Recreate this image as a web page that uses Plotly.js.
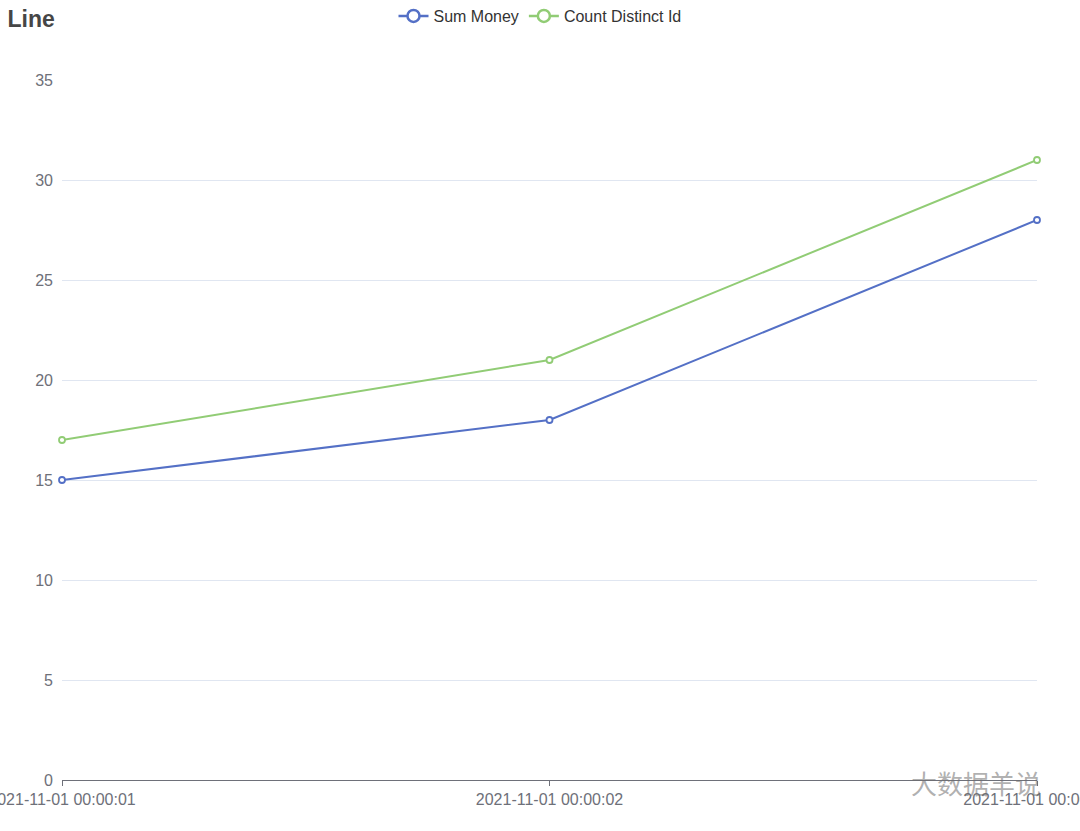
<!DOCTYPE html>
<html>
<head>
<meta charset="utf-8">
<script src="https://cdn.plot.ly/plotly-3.0.1.min.js"></script>
<style>html,body{margin:0;padding:0;background:#fff;}#chart{width:1080px;height:831px;}</style>
</head>
<body>
<div id="chart"></div>
<script>
const categories = ["2021-11-01 00:00:01", "2021-11-01 00:00:02", "2021-11-01 00:00:03"];
const sumMoney = [15, 18, 28];
const countDistinctId = [17, 21, 31];
const yTicks = [0, 5, 10, 15, 20, 25, 30, 35];
const seriesNames = ["Sum Money", "Count Distinct Id"];
const seriesColors = ["#5470C6", "#91CC75"];

const fontFam = '"Helvetica Neue", "Liberation Sans", Arial, sans-serif';
function series(name, vals, color) {
  return {
    type: 'scatter', mode: 'lines+markers', name: name,
    x: categories, y: vals, showlegend: false,
    line: {color: color, width: 2},
    marker: {symbol: 'circle', size: 6, color: '#ffffff', line: {color: color, width: 1.8}},
    cliponaxis: false
  };
}
function legendEntry(name, color) {
  return {
    type: 'scatter', mode: 'lines+markers', name: name,
    x: [null], y: [null], showlegend: true,
    line: {color: color, width: 2.5},
    marker: {symbol: 'circle', size: 12, color: '#ffffff', line: {color: color, width: 2.5}}
  };
}
const data = [
  series(seriesNames[0], sumMoney, seriesColors[0]),
  series(seriesNames[1], countDistinctId, seriesColors[1]),
  legendEntry(seriesNames[0], seriesColors[0]),
  legendEntry(seriesNames[1], seriesColors[1])
];
const layout = {
  width: 1080, height: 831,
  margin: {l: 62, r: 43, t: 80, b: 51},
  paper_bgcolor: '#ffffff', plot_bgcolor: '#ffffff',
  font: {family: fontFam, color: '#6E7079', size: 16},
  title: {text: '<b>Line</b>', x: 0.007, xanchor: 'left', xref: 'container',
          y: 1 - 19/831, yanchor: 'middle', yref: 'container',
          font: {size: 23, color: '#464646', family: fontFam}},
  showlegend: true,
  legend: {orientation: 'h', x: 0.5, xanchor: 'center', xref: 'container',
           y: 1 - 16/831, yanchor: 'middle', yref: 'container',
           font: {size: 16, color: '#333333'}, itemwidth: 30, tracegroupgap: 0},
  xaxis: {type: 'category', range: [0, 2], showgrid: false, zeroline: false,
          showline: true, linecolor: '#6E7079', linewidth: 1,
          ticks: 'outside', ticklen: 5, tickcolor: '#6E7079',
          tickfont: {size: 16, color: '#6E7079'}, automargin: false, fixedrange: true},
  yaxis: {range: [0, 35], tickvals: yTicks, showgrid: true, gridcolor: '#E0E6F1', gridwidth: 1,
          zeroline: false, showline: false, ticks: '', ticklabelstandoff: 8,
          tickfont: {size: 16, color: '#6E7079'}, automargin: false},
  annotations: [{
    text: '大数据羊说', xref: 'paper', yref: 'paper', x: 1.006, y: -0.004, xanchor: 'right', yanchor: 'middle',
    showarrow: false, font: {size: 26, color: 'rgba(110,110,110,0.55)', family: '"Noto Sans CJK SC", sans-serif'}
  }]
};
Plotly.newPlot('chart', data, layout, {displayModeBar: false, staticPlot: true});
</script>
</body>
</html>
